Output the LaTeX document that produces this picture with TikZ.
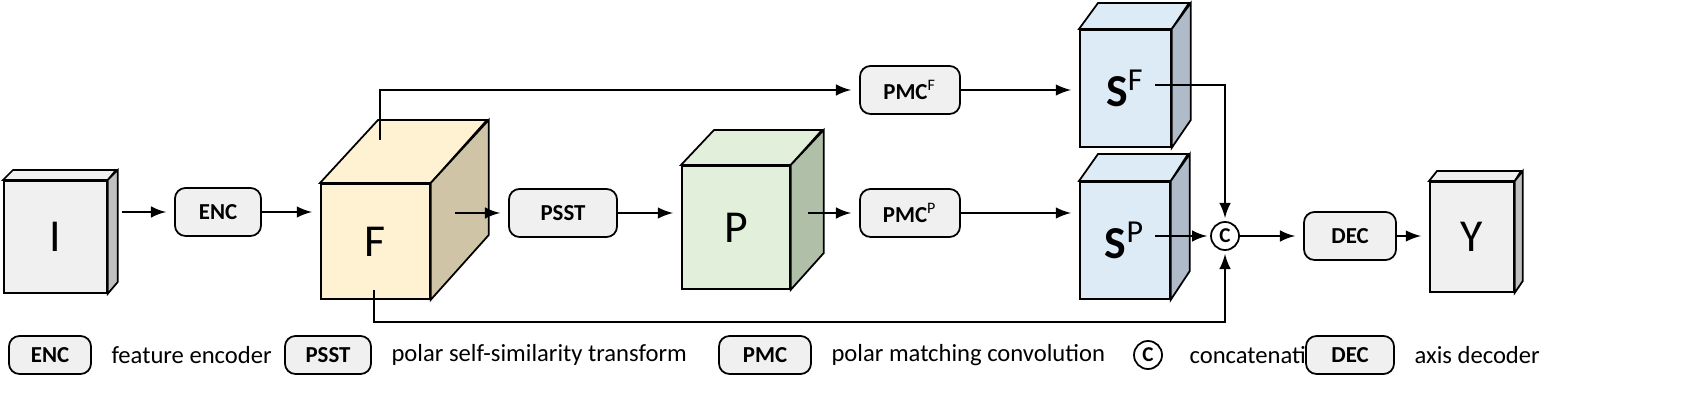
\documentclass[tikz,border=0pt]{standalone}
\usepackage{fontspec}
\setmainfont{Carlito}
\usetikzlibrary{positioning}

\definecolor{grayfront}{HTML}{F0F0F0}
\definecolor{grayside}{HTML}{C0C0C0}
\definecolor{featfront}{HTML}{FFF2D2}
\definecolor{featside}{HTML}{CFC4A6}
\definecolor{polfront}{HTML}{E2EFDA}
\definecolor{polside}{HTML}{B0BFA8}
\definecolor{simfront}{HTML}{DDEBF7}
\definecolor{simside}{HTML}{AFBBC8}

% cube: name, left, top, width, height, depth x, depth y, front, side
\newcommand{\cubeblock}[9]{%
  \node[draw, fill=#8, minimum width=#4*0.01cm, minimum height=#5*0.01cm, inner sep=0pt,
        anchor=north west] (#1) at (#2,#3) {};
  \draw[fill=#8] (#1.north west) -- ++(#6,-#7) -- ++(#4,0) -- (#1.north east) -- cycle;
  \draw[fill=#9] (#1.north east) -- ++(#6,-#7) -- ++(0,#5) -- (#1.south east) -- cycle;
}

\begin{document}
\begin{tikzpicture}[x=0.01cm, y=-0.01cm, line width=0.5pt,
  op/.style={draw, rounded corners=3pt, fill=grayfront, minimum height=0.48cm,
    minimum width=0.86cm, inner sep=1pt, font=\bfseries\fontsize{6.5}{7}\selectfont},
  cat/.style={draw, circle, minimum size=0.28cm, inner sep=0pt,
    font=\bfseries\fontsize{6}{6}\selectfont},
  cubelabel/.style={font=\fontsize{13}{13}\selectfont},
  legend/.style={font=\fontsize{7}{8}\selectfont, anchor=west},
  flow/.style={-latex, shorten >=0.08cm}]
  \useasboundingbox (0,0) rectangle (1686,413);

  % Blöcke
  \cubeblock{img}{3}{180}{103}{112}{10}{10}{grayfront}{grayside}
  \cubeblock{feat}{320}{183}{109}{115}{58}{63}{featfront}{featside}
  \cubeblock{pol}{681}{165}{108}{123}{33}{35}{polfront}{polside}
  \cubeblock{simf}{1079}{29}{91}{117}{19}{26}{simfront}{simside}
  \cubeblock{simp}{1079}{181}{90}{117}{19}{27}{simfront}{simside}
  \cubeblock{out}{1429}{181}{84}{110}{8}{10}{grayfront}{grayside}
  \node[cubelabel] at (img) {I};
  \node[cubelabel] at (feat) {F};
  \node[cubelabel] at (pol) {P};
  \node[cubelabel] at (simf) {$\mathbf{S}^{\mathrm{F}}$};
  \node[cubelabel] at (simp) {$\mathbf{S}^{\mathrm{P}}$};
  \node[cubelabel] at (out) {Y};

  % Operationen
  \node[op] (enc) at (218,212) {ENC};
  \node[op, minimum width=1.08cm] (psst) at (563,213) {PSST};
  \node[op, minimum width=1.0cm] (pmcf) at (910,90) {PMC$^{\mathrm{F}}$};
  \node[op, minimum width=1.0cm] (pmcp) at (910,213) {PMC$^{\mathrm{P}}$};
  \node[cat] (cat) at (1225,236) {C};
  \node[op, minimum width=0.92cm] (dec) at (1350,236) {DEC};

  % Pfeile
  \coordinate (imgout) at (122,212);
  \coordinate (featout) at (455,213);
  \coordinate (featup) at (380,140);
  \coordinate (featdown) at (374,290);
  \coordinate (polout) at (808,213);
  \coordinate (simfout) at (1155,85);
  \coordinate (simpout) at (1155,236);
  \draw[flow] (imgout) -- (enc);
  \draw[flow] (enc) -- (feat.west |- enc);
  \draw[flow] (featout) -- (psst);
  \draw[flow] (psst) -- (pol.west |- psst);
  \draw[flow] (polout) -- (pmcp);
  \draw[flow] (pmcp) -- (simp.west |- pmcp);
  \draw[flow] (featup) |- (pmcf);
  \draw[flow] (pmcf) -- (simf.west |- pmcf);
  \draw[flow, shorten >=0.03cm] (simfout) -| (cat);
  \draw[flow, shorten >=0.03cm] (simpout) -- (cat);
  \draw[flow, shorten >=0.03cm] (featdown) |- (1225,322) -- (cat);
  \draw[flow] (cat) -- (dec);
  \draw[flow] (dec) -- (out.west |- dec);

  % Legende
  \node[op, minimum width=0.82cm, minimum height=0.38cm] (lenc) at (50,355) {ENC};
  \node[legend, right=2pt of lenc] {feature encoder};
  \node[op, minimum width=0.86cm, minimum height=0.38cm] (lpsst) at (328,355) {PSST};
  \node[legend, right=2pt of lpsst] {polar self-similarity transform};
  \node[op, minimum width=0.92cm, minimum height=0.38cm] (lpmc) at (765,355) {PMC};
  \node[legend, right=2pt of lpmc] {polar matching convolution};
  \node[cat] (lcat) at (1148,355) {C};
  \node[legend, right=4pt of lcat] {concatenation};
  \node[op, minimum width=0.88cm, minimum height=0.38cm] (ldec) at (1350,355) {DEC};
  \node[legend, right=2pt of ldec] {axis decoder};
\end{tikzpicture}
\end{document}
